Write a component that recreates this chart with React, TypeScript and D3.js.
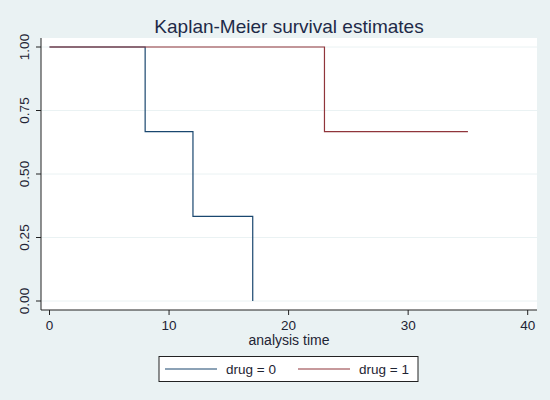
import * as d3 from 'd3';

// Kaplan-Meier step data
const drug0Times = [0, 8, 12, 17];
const drug0Surv = [1, 0.6667, 0.3333, 0];
const drug0End = 17;

const drug1Times = [0, 23, 28];
const drug1Surv = [1, 0.6667, 0.6667];
const drug1End = 35;

const xTicks = [0, 10, 20, 30, 40];
const yTicks = [0, 0.25, 0.5, 0.75, 1];

const seriesNames = ['drug = 0', 'drug = 1'];
const seriesColors = ['#1a476f', '#90353b'];

const width = 550;
const height = 400;
const plot = { left: 41, right: 537, top: 38, bottom: 310 };

function stepPoints(times: number[], surv: number[], end: number) {
  const pts: Array<[number, number]> = times.map((t, i) => [t, surv[i]]);
  pts.push([end, surv[surv.length - 1]]);
  return pts;
}

export default function App() {
  const x = d3.scaleLinear().domain([0, 40]).range([49.5, 527.7]);
  const y = d3.scaleLinear().domain([0, 1]).range([301, 47]);

  const line = d3
    .line<[number, number]>()
    .x((d) => x(d[0]))
    .y((d) => y(d[1]))
    .curve(d3.curveStepAfter);

  const series = [
    stepPoints(drug0Times, drug0Surv, drug0End),
    stepPoints(drug1Times, drug1Surv, drug1End),
  ];

  const font = '"Liberation Sans", Arial, sans-serif';
  const textColor = '#1e2433';

  return (
    <svg
      width={width}
      height={height}
      style={{ position: 'absolute', left: 0, top: 0, display: 'block' }}
      fontFamily={font}
    >
      <rect width={width} height={height} fill="#eaf2f3" />
      <rect x={plot.left} y={plot.top} width={plot.right - plot.left} height={plot.bottom - plot.top} fill="#ffffff" />

      <text x={289} y={32.5} textAnchor="middle" fontSize={19} fill="#1e2a48">
        Kaplan-Meier survival estimates
      </text>

      {/* horizontal grid */}
      {yTicks.map((t) => (
        <line key={t} x1={plot.left} x2={plot.right} y1={y(t)} y2={y(t)} stroke="#eaf2f3" strokeWidth={1} />
      ))}

      {/* y axis */}
      <line x1={plot.left} x2={plot.left} y1={plot.top} y2={plot.bottom} stroke="#222" strokeWidth={1} />
      {yTicks.map((t) => (
        <g key={t} transform={`translate(${plot.left},${y(t)})`}>
          <line x1={-5} x2={0} stroke="#222" />
          <text
            transform="translate(-17,0) rotate(-90)"
            textAnchor="middle"
            dy="0.35em"
            fontSize={13.5}
            fill={textColor}
          >
            {t.toFixed(2)}
          </text>
        </g>
      ))}

      {/* x axis */}
      <line x1={plot.left} x2={plot.right} y1={plot.bottom} y2={plot.bottom} stroke="#222" strokeWidth={1} />
      {xTicks.map((t) => (
        <g key={t} transform={`translate(${x(t)},${plot.bottom})`}>
          <line y1={0} y2={5} stroke="#222" />
          <text y={20} textAnchor="middle" fontSize={13.5} fill={textColor}>
            {t}
          </text>
        </g>
      ))}
      <text x={289} y={345} textAnchor="middle" fontSize={14} fill={textColor}>
        analysis time
      </text>

      {series.map((pts, i) => (
        <path key={i} d={line(pts) ?? ''} fill="none" stroke={seriesColors[i]} strokeWidth={1.2} />
      ))}

      {/* legend */}
      <rect x={159} y={356.5} width={259} height={25} fill="#ffffff" stroke="#222" strokeWidth={1} />
      {seriesNames.map((name, i) => {
        const lx = 165 + i * 133;
        return (
          <g key={name}>
            <line x1={lx} x2={lx + 52} y1={369} y2={369} stroke={seriesColors[i]} strokeWidth={1.2} />
            <text x={lx + 61} y={374} fontSize={13.5} fill={textColor}>
              {name}
            </text>
          </g>
        );
      })}
    </svg>
  );
}
